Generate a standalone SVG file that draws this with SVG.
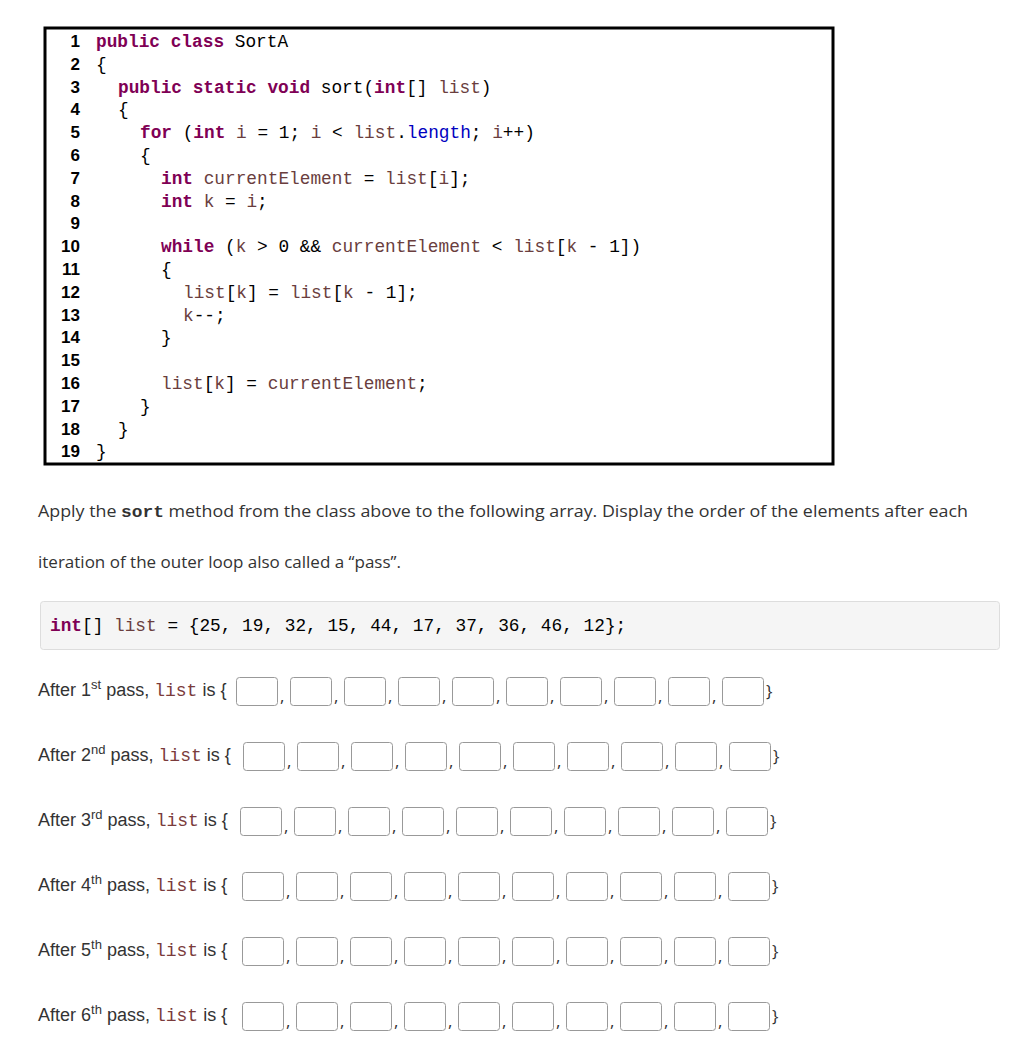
<svg xmlns="http://www.w3.org/2000/svg" width="1016" height="1054" viewBox="0 0 1016 1054">
<style>
.c{font-family:"Liberation Mono","DejaVu Sans Mono",monospace;font-size:17.8px;fill:#000}
.n{font-family:"Liberation Sans",Arial,sans-serif;font-size:17px;font-weight:bold;fill:#000;text-anchor:end}
.k{fill:#7f0055;font-weight:bold}
.v{fill:#6a3e3e}
.b{fill:#0000c0}
.t{font-family:"Open Sans","Liberation Sans",sans-serif;font-size:17px;fill:#333}
.p{font-family:"Liberation Sans",Arial,sans-serif;font-size:18px;fill:#333}
.m{font-family:"Liberation Mono",monospace;fill:#7a3b3b}
.bx{fill:#fff;stroke:#999;stroke-width:1;rx:3}
</style>
<rect width="1016" height="1054" fill="#fff"/>
<g id="code">
<rect x="45" y="28" width="788" height="436" fill="#fff" stroke="#000" stroke-width="3"/>
<g class="n">
<text x="80" y="47">1</text><text x="80" y="70">2</text><text x="80" y="93">3</text><text x="80" y="115">4</text><text x="80" y="138">5</text><text x="80" y="161">6</text><text x="80" y="184">7</text><text x="80" y="207">8</text><text x="80" y="229">9</text><text x="80" y="252">10</text><text x="80" y="275">11</text><text x="80" y="298">12</text><text x="80" y="321">13</text><text x="80" y="343">14</text><text x="80" y="366">15</text><text x="80" y="389">16</text><text x="80" y="412">17</text><text x="80" y="435">18</text><text x="80" y="457">19</text>
</g>
<g class="c" xml:space="preserve">
<text x="96" y="47"><tspan class="k">public class</tspan> SortA</text>
<text x="96" y="70">{</text>
<text x="118" y="93"><tspan class="k">public static void</tspan> sort(<tspan class="k">int</tspan>[] <tspan class="v">list</tspan>)</text>
<text x="118" y="115">{</text>
<text x="140" y="138"><tspan class="k">for</tspan> (<tspan class="k">int</tspan> <tspan class="v">i</tspan> = 1; <tspan class="v">i</tspan> &lt; <tspan class="v">list</tspan>.<tspan class="b">length</tspan>; <tspan class="v">i</tspan>++)</text>
<text x="140" y="161">{</text>
<text x="161" y="184"><tspan class="k">int</tspan> <tspan class="v">currentElement</tspan> = <tspan class="v">list</tspan>[<tspan class="v">i</tspan>];</text>
<text x="161" y="207"><tspan class="k">int</tspan> <tspan class="v">k</tspan> = <tspan class="v">i</tspan>;</text>
<text x="161" y="252"><tspan class="k">while</tspan> (<tspan class="v">k</tspan> &gt; 0 &amp;&amp; <tspan class="v">currentElement</tspan> &lt; <tspan class="v">list</tspan>[<tspan class="v">k</tspan> - 1])</text>
<text x="161" y="275">{</text>
<text x="183" y="298"><tspan class="v">list</tspan>[<tspan class="v">k</tspan>] = <tspan class="v">list</tspan>[<tspan class="v">k</tspan> - 1];</text>
<text x="183" y="321"><tspan class="v">k</tspan>--;</text>
<text x="161" y="343">}</text>
<text x="161" y="389"><tspan class="v">list</tspan>[<tspan class="v">k</tspan>] = <tspan class="v">currentElement</tspan>;</text>
<text x="140" y="412">}</text>
<text x="118" y="435">}</text>
<text x="96" y="457">}</text>
</g>
</g>
<g id="question">
<text class="t" x="38" y="517" textLength="930" lengthAdjust="spacingAndGlyphs">Apply the <tspan font-family="Liberation Mono,monospace" font-weight="bold" fill="#333">sort</tspan> method from the class above to the following array.  Display the order of the elements after each</text>
<text class="t" x="38" y="568">iteration of the outer loop also called a “pass”.</text>
</g>
<g id="array">
<rect x="40.5" y="601.5" width="959" height="48" rx="3" fill="#f5f5f5" stroke="#ddd"/>
<text class="c" x="50" y="631" font-size="17" xml:space="preserve"><tspan class="k">int</tspan>[] <tspan class="v">list</tspan> = {25, 19, 32, 15, 44, 17, 37, 36, 46, 12};</text>
</g>
<defs>
<g id="boxes">
<rect class="bx" x="0.5" y="0.5" width="41" height="28"/><text class="t" x="44" y="25">,</text>
<rect class="bx" x="54.5" y="0.5" width="41" height="28"/><text class="t" x="98" y="25">,</text>
<rect class="bx" x="108.5" y="0.5" width="41" height="28"/><text class="t" x="152" y="25">,</text>
<rect class="bx" x="162.5" y="0.5" width="41" height="28"/><text class="t" x="206" y="25">,</text>
<rect class="bx" x="216.5" y="0.5" width="41" height="28"/><text class="t" x="260" y="25">,</text>
<rect class="bx" x="270.5" y="0.5" width="41" height="28"/><text class="t" x="314" y="25">,</text>
<rect class="bx" x="324.5" y="0.5" width="41" height="28"/><text class="t" x="368" y="25">,</text>
<rect class="bx" x="378.5" y="0.5" width="41" height="28"/><text class="t" x="422" y="25">,</text>
<rect class="bx" x="432.5" y="0.5" width="41" height="28"/><text class="t" x="476" y="25">,</text>
<rect class="bx" x="486.5" y="0.5" width="41" height="28"/><text class="t" x="530" y="20" font-size="19">}</text>
</g>
</defs>
<g id="row1"><text class="p" x="38" y="696">After 1<tspan font-size="13" dy="-7">st</tspan><tspan dy="7"> pass, </tspan><tspan class="m">list</tspan> is {</text><use href="#boxes" x="236" y="677"/></g>
<g id="row2"><text class="p" x="38" y="761">After 2<tspan font-size="13" dy="-7">nd</tspan><tspan dy="7"> pass, </tspan><tspan class="m">list</tspan> is {</text><use href="#boxes" x="243" y="742"/></g>
<g id="row3"><text class="p" x="38" y="826">After 3<tspan font-size="13" dy="-7">rd</tspan><tspan dy="7"> pass, </tspan><tspan class="m">list</tspan> is {</text><use href="#boxes" x="240" y="807"/></g>
<g id="row4"><text class="p" x="38" y="891">After 4<tspan font-size="13" dy="-7">th</tspan><tspan dy="7"> pass, </tspan><tspan class="m">list</tspan> is {</text><use href="#boxes" x="242" y="872"/></g>
<g id="row5"><text class="p" x="38" y="956">After 5<tspan font-size="13" dy="-7">th</tspan><tspan dy="7"> pass, </tspan><tspan class="m">list</tspan> is {</text><use href="#boxes" x="242" y="937"/></g>
<g id="row6"><text class="p" x="38" y="1021">After 6<tspan font-size="13" dy="-7">th</tspan><tspan dy="7"> pass, </tspan><tspan class="m">list</tspan> is {</text><use href="#boxes" x="242" y="1002"/></g>
</svg>
